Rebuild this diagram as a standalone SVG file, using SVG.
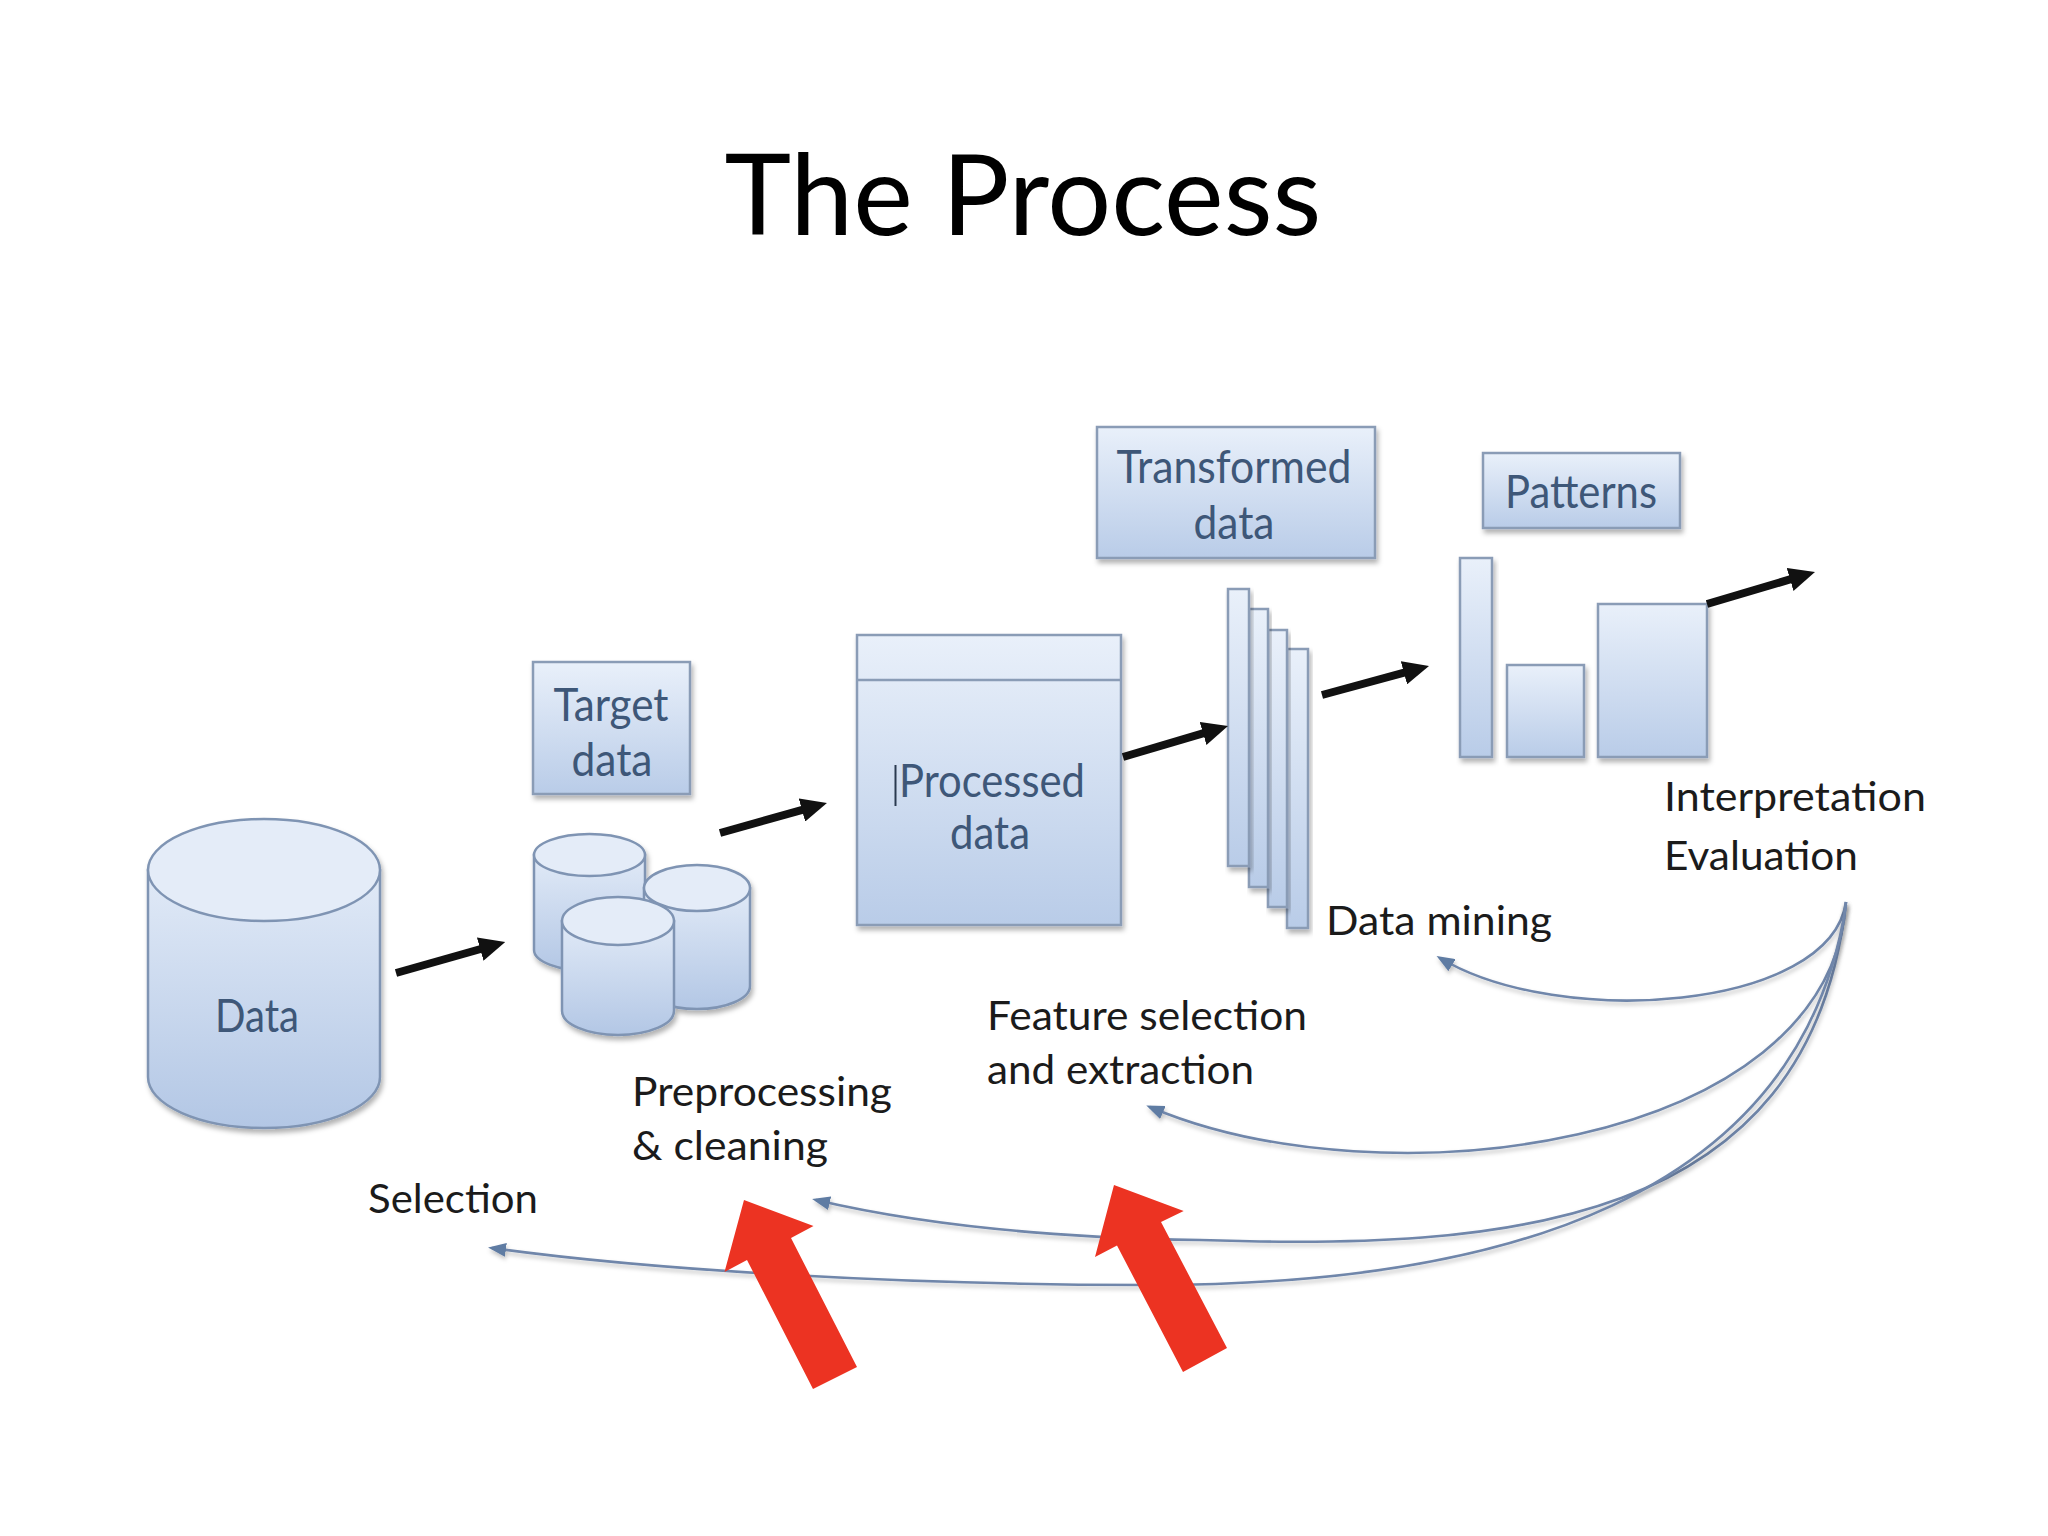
<svg xmlns="http://www.w3.org/2000/svg" width="2048" height="1536" viewBox="0 0 2048 1536">
<style>
.box{fill:url(#boxg);stroke:#8a9cb6;stroke-width:2.5;filter:url(#sh)}
.cyl{fill:url(#cylg);stroke:#7f94b3;stroke-width:2.5}
.cyltop{fill:#e4ecf8;stroke:#7f94b3;stroke-width:2.5}
.bl{font-family:Lato,'Open Sans','Liberation Sans',sans-serif;font-size:46px;fill:#3e5778;text-anchor:middle}
.lb{font-family:Lato,'Open Sans','Liberation Sans',sans-serif;font-size:41px;fill:#1b1b1b}
.title{font-family:Lato,'Open Sans','Liberation Sans',sans-serif;font-size:113px;fill:#000;text-anchor:middle}
.blk{stroke:#111;stroke-width:8;fill:none;marker-end:url(#ah)}
.fb{stroke:#6f86aa;stroke-width:2.6;fill:none;marker-end:url(#fh);filter:url(#lsh)}
.red{fill:#ec3322}
</style>
<defs>
<linearGradient id="boxg" x1="0" y1="0" x2="0" y2="1">
<stop offset="0" stop-color="#e9f0fa"/>
<stop offset="1" stop-color="#b9cce8"/>
</linearGradient>
<linearGradient id="cylg" x1="0" y1="0" x2="0" y2="1">
<stop offset="0" stop-color="#e1eaf7"/>
<stop offset="1" stop-color="#b3c7e5"/>
</linearGradient>
<filter id="sh" x="-10%" y="-10%" width="130%" height="130%">
<feDropShadow dx="2" dy="4" stdDeviation="2.5" flood-color="#000" flood-opacity="0.3"/>
</filter>
<filter id="lsh" x="-5%" y="-5%" width="110%" height="120%">
<feDropShadow dx="1" dy="3" stdDeviation="2" flood-color="#000" flood-opacity="0.25"/>
</filter>
<marker id="ah" markerUnits="userSpaceOnUse" viewBox="0 0 26 24" refX="6" refY="12" markerWidth="26" markerHeight="24" orient="auto">
<path d="M0,0 L26,12 L0,24 z" fill="#111"/>
</marker>
<marker id="fh" markerUnits="userSpaceOnUse" viewBox="0 0 18 14" refX="14" refY="7" markerWidth="18" markerHeight="14" orient="auto">
<path d="M0,0 L18,7 L0,14 z" fill="#5f7ba3"/>
</marker>
</defs>
<rect width="2048" height="1536" fill="#fff"/>
<text class="title" x="1023" y="235" textLength="597" lengthAdjust="spacingAndGlyphs">The Process</text>

<g id="data">
<g filter="url(#sh)">
<path class="cyl" d="M148,870 L148,1077 A116,51 0 0 0 380,1077 L380,870 z"/>
<ellipse class="cyltop" cx="264" cy="870" rx="116" ry="51"/>
</g>
<text class="bl" x="257" y="1032" textLength="84" lengthAdjust="spacingAndGlyphs">Data</text>
</g>

<g id="target-data">
<rect class="box" x="533" y="662" width="157" height="132"/>
<text class="bl" x="611" y="721" textLength="115" lengthAdjust="spacingAndGlyphs">Target</text>
<text class="bl" x="612" y="776" textLength="81" lengthAdjust="spacingAndGlyphs">data</text>
<g filter="url(#sh)">
<path class="cyl" d="M534,855 L534,950 A55.5,21 0 0 0 645,950 L645,855 z"/>
<ellipse class="cyltop" cx="589.5" cy="855" rx="55.5" ry="21"/>
<path class="cyl" d="M644,888 L644,986 A53,23 0 0 0 750,986 L750,888 z"/>
<ellipse class="cyltop" cx="697" cy="888" rx="53" ry="23"/>
<path class="cyl" d="M562,921 L562,1011 A56,24 0 0 0 674,1011 L674,921 z"/>
<ellipse class="cyltop" cx="618" cy="921" rx="56" ry="24"/>
</g>
</g>

<g id="processed-data">
<rect class="box" x="857" y="635" width="264" height="290"/>
<line x1="857" y1="680" x2="1121" y2="680" stroke="#8a9cb6" stroke-width="2.5"/>
<line x1="895.5" y1="765" x2="895.5" y2="806" stroke="#2a3a50" stroke-width="2"/>
<text class="bl" x="992" y="797" textLength="186" lengthAdjust="spacingAndGlyphs">Processed</text>
<text class="bl" x="990" y="849" textLength="80" lengthAdjust="spacingAndGlyphs">data</text>
</g>

<g id="transformed-data">
<rect class="box" x="1097" y="427" width="278" height="131"/>
<text class="bl" x="1234" y="483" textLength="235" lengthAdjust="spacingAndGlyphs">Transformed</text>
<text class="bl" x="1234" y="539" textLength="81" lengthAdjust="spacingAndGlyphs">data</text>
<rect class="box" x="1287" y="649" width="21" height="279"/>
<rect class="box" x="1268" y="630" width="19" height="277"/>
<rect class="box" x="1249" y="609" width="19" height="278"/>
<rect class="box" x="1228" y="589" width="21" height="277"/>
</g>

<g id="patterns">
<rect class="box" x="1483" y="453" width="197" height="75"/>
<text class="bl" x="1581" y="508" textLength="152" lengthAdjust="spacingAndGlyphs">Patterns</text>
<rect class="box" x="1460" y="558" width="32" height="199"/>
<rect class="box" x="1507" y="665" width="77" height="92"/>
<rect class="box" x="1598" y="604" width="109" height="153"/>
</g>

<g id="labels">
<text class="lb" x="1664" y="811" textLength="262" lengthAdjust="spacingAndGlyphs">Interpretation</text>
<text class="lb" x="1664" y="870" textLength="194" lengthAdjust="spacingAndGlyphs">Evaluation</text>
<text class="lb" x="1326" y="935" textLength="226" lengthAdjust="spacingAndGlyphs">Data mining</text>
<text class="lb" x="987" y="1030" textLength="320" lengthAdjust="spacingAndGlyphs">Feature selection</text>
<text class="lb" x="987" y="1084" textLength="267" lengthAdjust="spacingAndGlyphs">and extraction</text>
<text class="lb" x="632" y="1106" textLength="260" lengthAdjust="spacingAndGlyphs">Preprocessing</text>
<text class="lb" x="632" y="1160" textLength="196" lengthAdjust="spacingAndGlyphs">&amp; cleaning</text>
<text class="lb" x="368" y="1213" textLength="170" lengthAdjust="spacingAndGlyphs">Selection</text>
</g>

<g id="connectors">
<line class="blk" x1="396" y1="973" x2="486" y2="947.5"/>
<line class="blk" x1="720" y1="833" x2="807.7" y2="808.4"/>
<line class="blk" x1="1123" y1="757" x2="1208.8" y2="731.7"/>
<line class="blk" x1="1322" y1="695" x2="1409.7" y2="671.2"/>
<line class="blk" x1="1707" y1="604" x2="1795.8" y2="577.7"/>
<path class="fb" d="M1846,902 C1830,1010 1560,1030 1440,958"/>
<path class="fb" d="M1846,902 C1830,1150 1380,1205 1150,1107"/>
<path class="fb" d="M1846,902 C1810,1230 1500,1250 1200,1240 C1000,1237 880,1215 816,1200"/>
<path class="fb" d="M1846,905 C1800,1200 1500,1285 1150,1285 C900,1285 650,1270 492,1248"/>
</g>

<g id="red-arrows">
<polygon class="red" points="744,1200 813.5,1226 791,1238 857,1367 813,1389 747,1260 724.5,1272"/>
<polygon class="red" points="1114,1185 1183.7,1211 1161,1222 1227,1348 1183,1372 1117,1245.5 1095,1257"/>
</g>
</svg>
